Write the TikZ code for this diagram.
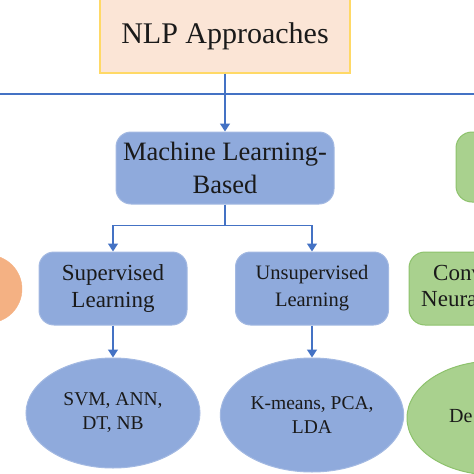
\documentclass[tikz,border=0pt]{standalone}
\usepackage{fontspec}
\setmainfont{Liberation Serif}
\usetikzlibrary{shapes.geometric,arrows.meta}

\definecolor{peachfill}{HTML}{FBE5D6}
\definecolor{peachline}{HTML}{FFD966}
\definecolor{mlfill}{HTML}{8FAADC}
\definecolor{mlline}{HTML}{A3B9E2}
\definecolor{dlfill}{HTML}{A9D18E}
\definecolor{dlline}{HTML}{8DC26C}
\definecolor{orfill}{HTML}{F4B183}
\definecolor{linkblue}{HTML}{4472C4}
\definecolor{inkgray}{HTML}{1A1A1A}

\tikzset{
  rootbox/.style={draw=peachline, line width=1.2pt, fill=peachfill, text=inkgray,
    font=\fontsize{30}{34}\selectfont, text depth=0pt},
  mlbox/.style={draw=mlline, line width=1pt, fill=mlfill, rounded corners=15pt,
    align=center, inner sep=2pt, text=inkgray},
  dlbox/.style={draw=dlline, line width=1pt, fill=dlfill, rounded corners=16pt,
    inner sep=2pt},
  algo/.style={ellipse, draw=mlline, line width=1pt, fill=mlfill, align=center,
    text=inkgray, font=\fontsize{19.5}{24}\selectfont},
  link/.style={draw=linkblue, line width=1.4pt},
  arr/.style={link, -{Triangle[length=8pt,width=10pt]}},
  cuttext/.style={anchor=base west, inner sep=0pt, text=inkgray}
}

\begin{document}
\begin{tikzpicture}[x=1pt, y=-1pt]
  \useasboundingbox (0,0) rectangle (474,474);
  \clip (0,0) rectangle (474,474);

  % Root
  \node[rootbox, minimum width=250pt, minimum height=80pt] (nlp) at (225,33) {NLP Approaches};

  % Bus line under the root
  \coordinate (busw) at (-5,94);
  \coordinate (buse) at (480,94);
  \draw[link] (busw) -- (buse);

  % Machine learning branch
  \node[mlbox, minimum width=218pt, minimum height=72pt,
        font=\fontsize{26.5}{33}\selectfont] (ml) at (225,168) {Machine Learning-\\Based};
  \node[mlbox, minimum width=148pt, minimum height=73pt,
        font=\fontsize{23}{27}\selectfont] (sup) at (113,288.5) {Supervised\\Learning};
  \node[mlbox, minimum width=153pt, minimum height=73pt,
        font=\fontsize{20.5}{27}\selectfont] (unsup) at (312,288.5) {Unsupervised\\Learning};

  % Algorithms
  \node[algo, minimum width=174pt, minimum height=110pt] (supalg) at (113,413) {SVM, ANN,\\DT, NB};
  \node[algo, minimum width=172pt, minimum height=114pt] (unsupalg) at (312,415) {K-means, PCA,\\LDA};

  % Cut-off neighbours
  \node[circle, fill=orfill, draw=orfill, minimum size=68pt] (orange) at (-12,289) {};
  \node[dlbox, minimum width=144pt, minimum height=70pt] (dltop) at (528,167) {};
  \node[dlbox, minimum width=147pt, minimum height=73pt] (cnn) at (482.5,288.5) {};
  \node[ellipse, draw=dlline, line width=1pt, fill=dlfill, minimum width=174pt,
        minimum height=114pt] (dlalg) at (494,418) {};
  \node[cuttext, font=\fontsize{23}{27}\selectfont] (cnnone) at (433,280) {Conv};
  \node[cuttext, font=\fontsize{23}{27}\selectfont] (cnntwo) at (421,306) {Neura};
  \node[cuttext, font=\fontsize{20}{24}\selectfont] (dltxt) at (449,422) {De};

  % Arrows
  \draw[arr] (nlp) -- (ml);
  \draw[arr] (ml.south) -- ++(0,21) -| (sup.north);
  \draw[arr] (ml.south) -- ++(0,21) -| (unsup.north);
  \draw[arr] (sup) -- (supalg);
  \draw[arr] (unsup) -- (unsupalg);

\end{tikzpicture}
\end{document}
